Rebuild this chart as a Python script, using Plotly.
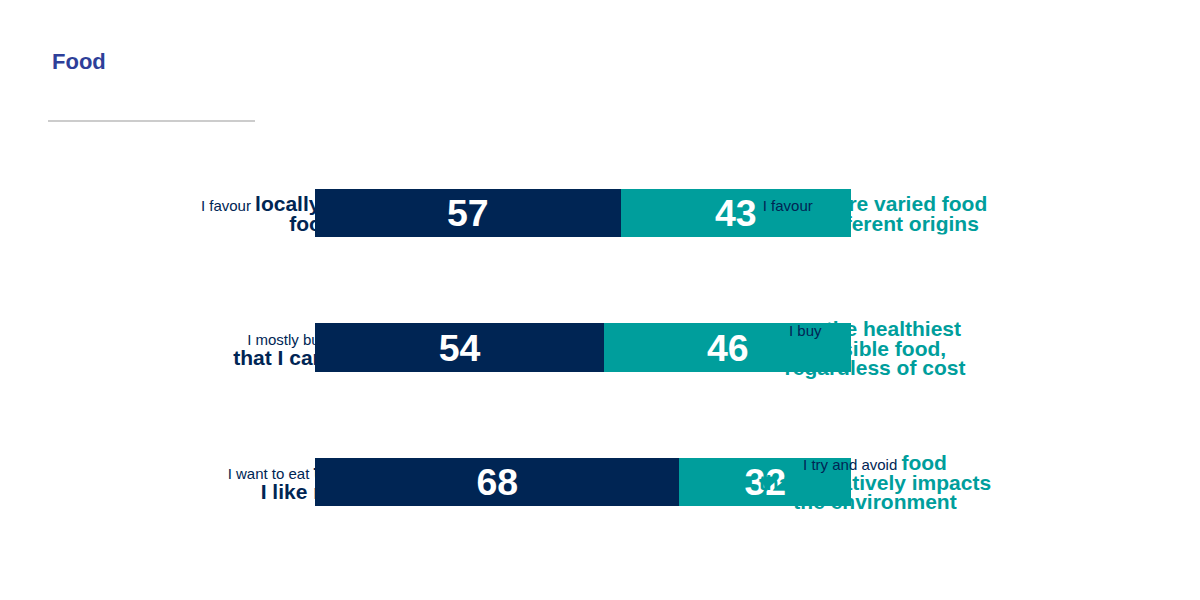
import plotly.graph_objects as go

rows = ["r1", "r2", "r3"]
left_vals = [57, 54, 68]
right_vals = [43, 46, 32]
left_labels = [
    "I favour <b><span style='font-size:21px'>locally-produced<br>food</span></b>",
    "I mostly buy <b><span style='font-size:21px'>food<br>that I can afford</span></b>",
    "I want to eat <b><span style='font-size:21px'>the food<br>I like most</span></b>",
]
right_labels = [
    "<span style='color:#002554'>I favour</span> <b><span style='font-size:21px'>more varied food<br>with different origins</span></b>",
    "<span style='color:#002554'>I buy</span> <b><span style='font-size:21px'>the healthiest<br>possible food,<br>regardless of cost</span></b>",
    "<span style='color:#002554'>I try and avoid</span> <b><span style='font-size:21px'>food<br>that negatively impacts<br>the environment</span></b>",
]
NAVY = "#002554"
TEAL = "#009E9C"
OX, OY = 8, 8  # page offset compensation
W, H = 1200, 600

def px(x):
    return (x - OX) / W

def py(y):
    return 1 - (y - OY) / H

fig = go.Figure()
for vals, col in [(left_vals, NAVY), (right_vals, TEAL)]:
    fig.add_bar(y=rows, x=vals, orientation="h", marker_color=col, width=0.36,
                marker_line_width=0,
                text=[str(v) for v in vals], textposition="inside", insidetextanchor="middle",
                textangle=0,
                textfont=dict(color="white", size=46, family="Liberation Sans"),
                texttemplate="<b>%{text}</b>")

for r, lt, rt in zip(rows, left_labels, right_labels):
    fig.add_annotation(x=px(160), xref="paper", y=r, yref="y", text=lt, showarrow=False,
                       align="center", width=300,
                       font=dict(color=NAVY, size=15, family="Liberation Sans"))
    fig.add_annotation(x=px(1037), xref="paper", y=r, yref="y", text=rt, showarrow=False,
                       align="center", width=320,
                       font=dict(color=TEAL, size=15, family="Liberation Sans"))

fig.add_annotation(x=px(50), xref="paper", y=py(62), yref="paper", text="<b>Food</b>",
                   showarrow=False, xanchor="left", yanchor="middle",
                   font=dict(color="#2E3F99", size=22, family="Liberation Sans"))
fig.add_shape(type="line", xref="paper", yref="paper", x0=px(48), x1=px(255),
              y0=py(121), y1=py(121), line=dict(color="#999999", width=1))

fig.update_layout(
    width=W, height=H, barmode="stack", showlegend=False,
    margin=dict(l=0, r=0, t=0, b=0), plot_bgcolor="white", paper_bgcolor="white",
    xaxis=dict(domain=[px(315), px(851)], range=[0, 100], visible=False, fixedrange=True),
    yaxis=dict(domain=[py(549), py(146)], autorange="reversed", visible=False, type="category"),
    uniformtext=dict(minsize=10, mode="show"),
)
fig.write_html("out.html")
